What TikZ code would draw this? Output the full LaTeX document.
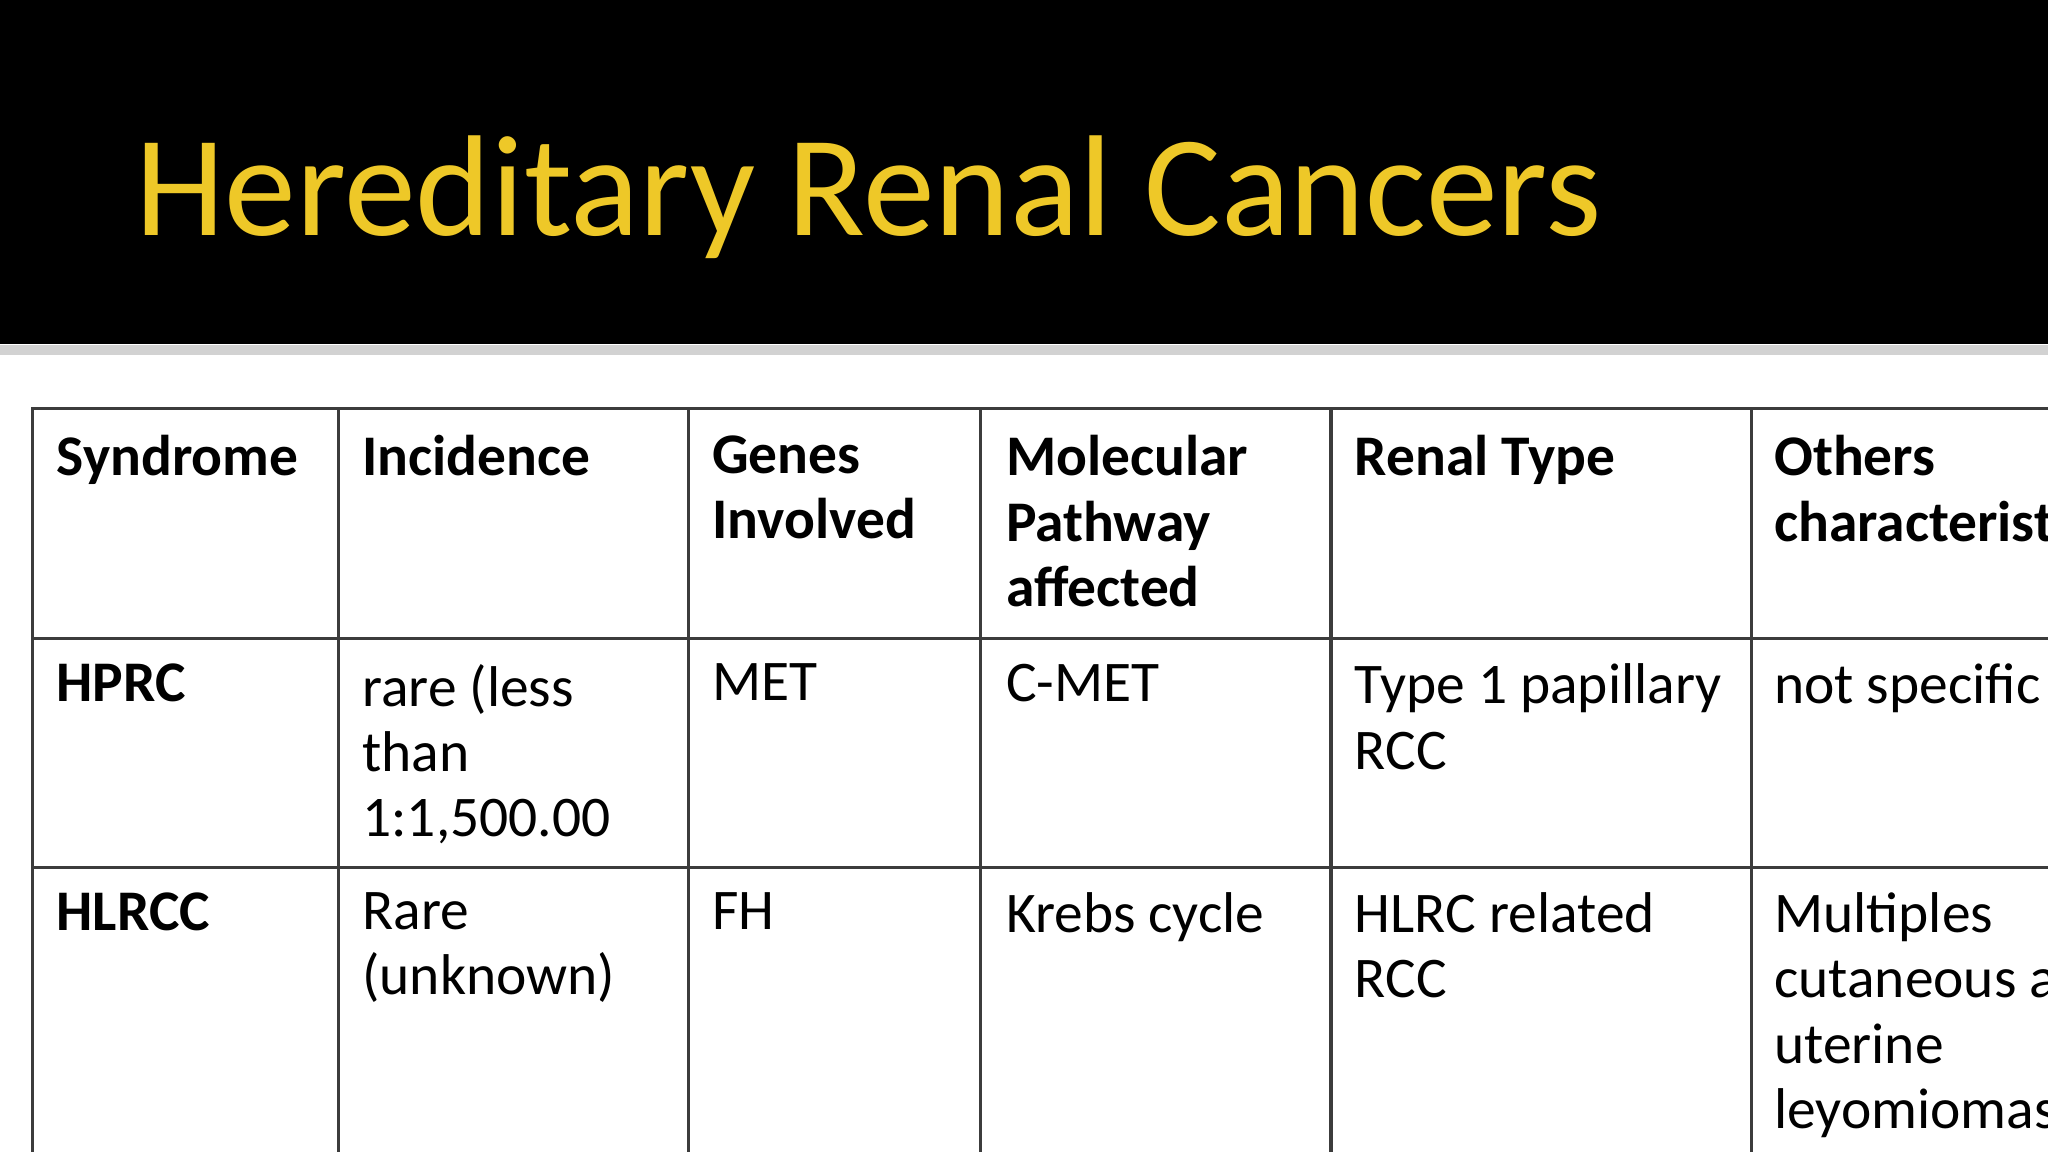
\documentclass[tikz,border=0pt]{standalone}
\usepackage{fontspec}
\setmainfont{Carlito}
\definecolor{titley}{RGB}{238,200,40}
\definecolor{gridc}{RGB}{60,60,60}
\tikzset{
  cell/.style={anchor=north west,inner sep=0pt,align=left,font=\fontsize{22pt}{25pt}\selectfont},
  hcell/.style={cell,font=\fontsize{22pt}{25pt}\selectfont\bfseries},
  grid/.style={draw=gridc,line width=1.2pt}
}
\begin{document}
\begin{tikzpicture}[x=0.5pt,y=-0.5pt]
\useasboundingbox (0,0) rectangle (1568,882);
\clip (0,0) rectangle (1568,882);
\fill[white] (0,0) rectangle (1568,882);
\fill[black] (0,0) rectangle (1568,263);
\fill[gray!35] (0,264) rectangle (1568,272);
\node[anchor=base west,inner sep=0pt,text=titley,font=\fontsize{55pt}{60pt}\selectfont] (title) at (103,180) {Hereditary Renal Cancers};
% grid
\draw[grid] (25,900) -- (25,313) -- (1600,313);
\draw[grid] (25,489) -- (1600,489);
\draw[grid] (25,664) -- (1600,664);
\foreach \x in {259,527,751,1019,1341} \draw[grid] (\x,313) -- (\x,900);
% header
\node[hcell] (h1) at (43,333) {Syndrome};
\node[hcell] (h2) at (277,333) {Incidence};
\node[hcell] (h3) at (545,333) {Genes\\Involved};
\node[hcell] (h4) at (770,333) {Molecular\\Pathway\\affected};
\node[hcell] (h5) at (1037,333) {Renal Type};
\node[hcell] (h6) at (1358,333) {Others\\characteristics};
% row 1
\node[hcell] (a1) at (43,508) {HPRC};
\node[cell] (a2) at (277,508) {rare (less\\than\\1:1,500.00};
\node[cell] (a3) at (545,508) {MET};
\node[cell] (a4) at (770,508) {C-MET};
\node[cell] (a5) at (1037,508) {Type 1 papillary\\RCC};
\node[cell] (a6) at (1358,508) {not specific};
% row 2
\node[hcell] (b1) at (43,683) {HLRCC};
\node[cell] (b2) at (277,683) {Rare\\(unknown)};
\node[cell] (b3) at (545,683) {FH};
\node[cell] (b4) at (770,683) {Krebs cycle};
\node[cell] (b5) at (1037,683) {HLRC related\\RCC};
\node[cell] (b6) at (1358,683) {Multiples\\cutaneous and\\uterine\\leyomiomas};
\end{tikzpicture}
\end{document}
